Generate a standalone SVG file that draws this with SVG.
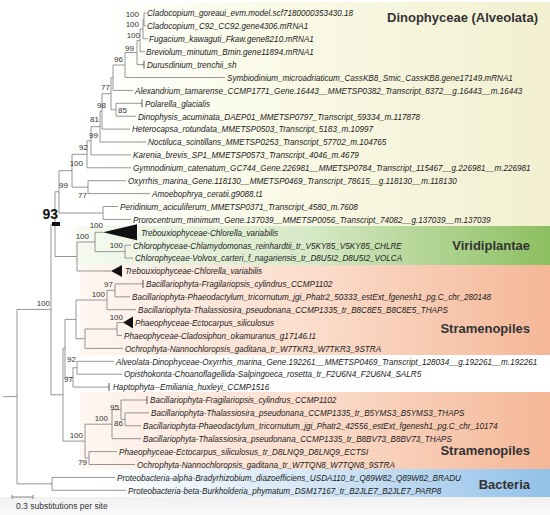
<svg xmlns="http://www.w3.org/2000/svg" width="550" height="515" viewBox="0 0 550 515">
<defs>
<linearGradient id="gDino" x1="0" x2="1" y1="0" y2="0"><stop offset="0" stop-color="#ffffff"/><stop offset="0.3" stop-color="#fbfbeb"/><stop offset="1" stop-color="#f2f0d0"/></linearGradient>
<linearGradient id="gViri" x1="0" x2="1" y1="0" y2="0"><stop offset="0" stop-color="#f6faf1"/><stop offset="0.5" stop-color="#d6e9c6"/><stop offset="1" stop-color="#8cbf60"/></linearGradient>
<linearGradient id="gStr" x1="0" x2="1" y1="0" y2="0"><stop offset="0" stop-color="#fff7f2"/><stop offset="0.5" stop-color="#fbdccb"/><stop offset="1" stop-color="#f4b797"/></linearGradient>
<linearGradient id="gBac" x1="0" x2="1" y1="0" y2="0"><stop offset="0" stop-color="#ffffff"/><stop offset="0.5" stop-color="#d2e5f5"/><stop offset="1" stop-color="#92c1e8"/></linearGradient>
<linearGradient id="gBot" x1="0" x2="0" y1="0" y2="1"><stop offset="0" stop-color="#f1f1f1"/><stop offset="1" stop-color="#fafafa"/></linearGradient>
</defs>
<style>
.br{fill:none;stroke:#8a8a8a;stroke-width:0.9}
.tk{fill:none;stroke:#555;stroke-width:1}
.tri{fill:#111}
.tip{font-family:"Liberation Sans",Arial,sans-serif;font-style:italic;font-size:8.15px;fill:#222}
.bs{font-family:"Liberation Sans",Arial,sans-serif;font-size:8px;fill:#333;text-anchor:end}
.grp{font-family:"Liberation Sans",Arial,sans-serif;font-weight:bold;font-size:13px;fill:#333}
</style>
<rect x="0" y="0" width="550" height="515" fill="#ffffff"/>
<g id="bands">
<rect x="100" y="2" width="450" height="224" fill="url(#gDino)"/>
<rect x="75" y="226" width="475" height="39" fill="url(#gViri)"/>
<rect x="80" y="265" width="470" height="90" fill="url(#gStr)"/>
<rect x="80" y="392" width="470" height="77" fill="url(#gStr)"/>
<rect x="100" y="469" width="450" height="28" fill="url(#gBac)"/>
<rect x="0" y="497" width="550" height="18" fill="url(#gBot)"/>
</g>
<g id="group-labels">
<text class="grp" x="538" y="22" text-anchor="end">Dinophyceae (Alveolata)</text>
<text class="grp" x="530" y="250" text-anchor="end">Viridiplantae</text>
<text class="grp" x="530" y="333" text-anchor="end">Stramenopiles</text>
<text class="grp" x="530" y="455" text-anchor="end">Stramenopiles</text>
<text class="grp" x="530" y="489" text-anchor="end">Bacteria</text>
</g>
<g id="connectors">
<path class="br" d="M146 13 H144 V25.9 H146"/>
<path class="br" d="M144 19.45 H143 V38.8 H148"/>
<path class="br" d="M143 29.1 H140 V51.7 H145"/>
<path class="br" d="M140 40.4 H137 V64.6 H144"/>
<path class="br" d="M137 52.5 H125 V77.5 H225"/>
<path class="br" d="M125 65 H113 V90.4 H133"/>
<path class="br" d="M142 103.3 H116 V116.2 H136"/>
<path class="br" d="M113 77.7 H111 V109.75 H116"/>
<path class="br" d="M111 93.7 H102 V129.1 H130"/>
<path class="br" d="M102 111.4 H100 V142 H146"/>
<path class="br" d="M100 126.7 H91 V154.9 H131"/>
<path class="br" d="M91 140.8 H87 V167.8 H131"/>
<path class="br" d="M126 180.7 H88 V193.6 H150"/>
<path class="br" d="M87 154.3 H72 V187.15 H88"/>
<path class="br" d="M118 206.5 H103 V219.4 H131"/>
<path class="br" d="M72 170.7 H59 V213 H103"/>
<path class="br" d="M131 245.2 H125 V258.1 H133"/>
<path class="br" d="M103 232.3 H95 V251.65 H125"/>
<path class="br" d="M95 242 H77 V271 H111"/>
<path class="br" d="M59 191.8 H55 V256.5 H77"/>
<path class="br" d="M143 283.9 H115 V296.8 H130"/>
<path class="br" d="M115 290.35 H107 V309.7 H136"/>
<path class="br" d="M123 322.6 H117 V335.5 H122"/>
<path class="br" d="M117 329 H85 V348.4 H123"/>
<path class="br" d="M107 300 H76 V338.7 H85"/>
<path class="br" d="M114 361.3 H77 V374.2 H122"/>
<path class="br" d="M77 367.75 H73 V387.1 H109"/>
<path class="br" d="M76 319.4 H65 V377.4 H73"/>
<path class="br" d="M149 412.9 H125 V425.8 H141"/>
<path class="br" d="M147 400 H121 V419.35 H125"/>
<path class="br" d="M121 409.7 H112 V438.7 H141"/>
<path class="br" d="M117 451.6 H89 V464.5 H135"/>
<path class="br" d="M112 424.2 H85 V458 H89"/>
<path class="br" d="M65 348.4 H63 V441.1 H85"/>
<path class="br" d="M55 224.1 H51 V394.75 H63"/>
<path class="br" d="M115 477.4 H52 V490.3 H126"/>
<path class="br" d="M51 309.4 H17 V483.85 H52"/>
<path class="br" d="M3 396.6 H17"/>
</g>
<g id="n93"><text x="58" y="219" text-anchor="end" font-family="Liberation Sans, Arial, sans-serif" font-weight="bold" font-size="14" fill="#111">93</text><rect x="52" y="222" width="8" height="4" fill="#111"/></g>
<g id="bootstrap">
<text class="bs" x="139" y="17">100</text>
<text class="bs" x="139" y="27">100</text>
<text class="bs" x="140" y="38">100</text>
<text class="bs" x="134" y="51">99</text>
<text class="bs" x="123" y="62">96</text>
<text class="bs" x="110" y="90">77</text>
<text class="bs" x="106" y="108">98</text>
<text class="bs" x="127" y="113">85</text>
<text class="bs" x="99" y="122">81</text>
<text class="bs" x="98" y="138">99</text>
<text class="bs" x="88" y="150">92</text>
<text class="bs" x="83" y="166">100</text>
<text class="bs" x="68" y="188">99</text>
<text class="bs" x="87" y="198">77</text>
<text class="bs" x="103" y="228">100</text>
<text class="bs" x="89" y="239">100</text>
<text class="bs" x="123" y="248">100</text>
<text class="bs" x="113" y="287">97</text>
<text class="bs" x="105" y="297">100</text>
<text class="bs" x="123" y="320">100</text>
<text class="bs" x="50" y="306">100</text>
<text class="bs" x="76" y="362">92</text>
<text class="bs" x="73" y="382">97</text>
<text class="bs" x="119" y="410">95</text>
<text class="bs" x="123" y="426">86</text>
<text class="bs" x="108" y="421">100</text>
<text class="bs" x="83" y="438">100</text>
<text class="bs" x="87" y="465">79</text>
</g>
<g id="tips">
<g id="t01"><text class="tip" x="147" y="16">Cladocopium_goreaui_evm.model.scf7180000353430.18</text></g>
<g id="t02"><text class="tip" x="147" y="29">Cladocopium_C92_CC92.gene4306.mRNA1</text></g>
<g id="t03"><text class="tip" x="149" y="42">Fugacium_kawaguti_Fkaw.gene8210.mRNA1</text></g>
<g id="t04"><text class="tip" x="146" y="55">Breviolum_minutum_Bmin.gene11894.mRNA1</text></g>
<g id="t05"><path class="tk" d="M144 60.6 V68.6"/><text class="tip" x="147" y="68">Durusdinium_trenchii_sh</text></g>
<g id="t06"><text class="tip" x="227" y="80.5">Symbiodinium_microadriaticum_CassKB8_Smic_CassKB8.gene17149.mRNA1</text></g>
<g id="t07"><text class="tip" x="135" y="93.5">Alexandrium_tamarense_CCMP1771_Gene.16443__MMETSP0382_Transcript_8372__g.16443__m.16443</text></g>
<g id="t08"><path class="tk" d="M142 99.3 V107.3"/><text class="tip" x="145" y="106.5">Polarella_glacialis</text></g>
<g id="t09"><text class="tip" x="138" y="119.5">Dinophysis_acuminata_DAEP01_MMETSP0797_Transcript_59334_m.117878</text></g>
<g id="t10"><text class="tip" x="132" y="132">Heterocapsa_rotundata_MMETSP0503_Transcript_5183_m.10997</text></g>
<g id="t11"><text class="tip" x="148" y="145">Noctiluca_scintillans_MMETSP0253_Transcript_57702_m.104765</text></g>
<g id="t12"><text class="tip" x="133" y="158">Karenia_brevis_SP1_MMETSP0573_Transcript_4046_m.4679</text></g>
<g id="t13"><text class="tip" x="133" y="171">Gymnodinium_catenatum_GC744_Gene.226981__MMETSP0784_Transcript_115467__g.226981__m.226981</text></g>
<g id="t14"><text class="tip" x="128" y="184">Oxyrrhis_marina_Gene.118130__MMETSP0469_Transcript_78615__g.118130__m.118130</text></g>
<g id="t15"><text class="tip" x="152" y="196.5">Amoebophrya_ceratii.g9088.t1</text></g>
<g id="t16"><text class="tip" x="120" y="209.5">Peridinium_aciculiferum_MMETSP0371_Transcript_4580_m.7608</text></g>
<g id="t17"><text class="tip" x="133" y="222.5">Prorocentrum_minimum_Gene.137039__MMETSP0056_Transcript_74082__g.137039__m.137039</text></g>
<g id="t18"><path class="tri" d="M103 232.3 L137 224.3 L137 240.3 Z"/><text class="tip" x="141" y="235.5">Trebouxiophyceae-Chlorella_variabilis</text></g>
<g id="t19"><text class="tip" x="133" y="248.5">Chlorophyceae-Chlamydomonas_reinhardtii_tr_V5KY85_V5KY85_CHLRE</text></g>
<g id="t20"><text class="tip" x="135" y="261">Chlorophyceae-Volvox_carteri_f_nagariensis_tr_D8U5I2_D8U5I2_VOLCA</text></g>
<g id="t21"><path class="tri" d="M111 271 L122 265 L122 277 Z"/><text class="tip" x="125" y="274">Trebouxiophyceae-Chlorella_variabilis</text></g>
<g id="t22"><path class="tk" d="M143 279.9 V287.9"/><text class="tip" x="146" y="287">Bacillariophyta-Fragilariopsis_cylindrus_CCMP1102</text></g>
<g id="t23"><text class="tip" x="132" y="300">Bacillariophyta-Phaeodactylum_tricornutum_jgi_Phatr2_50333_estExt_fgenesh1_pg.C_chr_280148</text></g>
<g id="t24"><text class="tip" x="138" y="313">Bacillariophyta-Thalassiosira_pseudonana_CCMP1335_tr_B8C8E5_B8C8E5_THAPS</text></g>
<g id="t25"><path class="tri" d="M123 322.6 L133 316.6 L133 328.6 Z"/><text class="tip" x="135" y="325.5">Phaeophyceae-Ectocarpus_siliculosus</text></g>
<g id="t26"><text class="tip" x="124" y="338.5">Phaeophyceae-Cladosiphon_okamuranus_g17146.t1</text></g>
<g id="t27"><text class="tip" x="125" y="351.5">Ochrophyta-Nannochloropsis_gaditana_tr_W7TKR3_W7TKR3_9STRA</text></g>
<g id="t28"><text class="tip" x="116" y="364.5">Alveolata-Dinophyceae-Oxyrrhis_marina_Gene.192261__MMETSP0469_Transcript_128034__g.192261__m.192261</text></g>
<g id="t29"><text class="tip" x="124" y="377">Opisthokonta-Choanoflagellida-Salpingoeca_rosetta_tr_F2U6N4_F2U6N4_SALR5</text></g>
<g id="t30"><path class="tk" d="M109 383 V391"/><text class="tip" x="113" y="390">Haptophyta--Emiliania_huxleyi_CCMP1516</text></g>
<g id="t31"><path class="tk" d="M147 396 V404"/><text class="tip" x="150" y="403">Bacillariophyta-Fragilariopsis_cylindrus_CCMP1102</text></g>
<g id="t32"><text class="tip" x="151" y="416">Bacillariophyta-Thalassiosira_pseudonana_CCMP1335_tr_B5YMS3_B5YMS3_THAPS</text></g>
<g id="t33"><text class="tip" x="143" y="429">Bacillariophyta-Phaeodactylum_tricornutum_jgi_Phatr2_42556_estExt_fgenesh1_pg.C_chr_10174</text></g>
<g id="t34"><text class="tip" x="143" y="442">Bacillariophyta-Thalassiosira_pseudonana_CCMP1335_tr_B8BV73_B8BV73_THAPS</text></g>
<g id="t35"><text class="tip" x="119" y="455">Phaeophyceae-Ectocarpus_siliculosus_tr_D8LNQ9_D8LNQ9_ECTSI</text></g>
<g id="t36"><text class="tip" x="137" y="467.5">Ochrophyta-Nannochloropsis_gaditana_tr_W7TQN8_W7TQN8_9STRA</text></g>
<g id="t37"><text class="tip" x="117" y="480.5">Proteobacteria-alpha-Bradyrhizobium_diazoefficiens_USDA110_tr_Q89W82_Q89W82_BRADU</text></g>
<g id="t38"><text class="tip" x="128" y="493.5">Proteobacteria-beta-Burkholderia_phymatum_DSM17167_tr_B2JLE7_B2JLE7_PARP8</text></g>
</g>
<g id="scale">
<path d="M12 497 H33 M12 495 V499 M33 495 V499" fill="none" stroke="#666" stroke-width="0.8"/>
<text x="16" y="509" font-family="Liberation Sans, Arial, sans-serif" font-size="8.5" fill="#333">0.3 substitutions per site</text>
</g>
</svg>
